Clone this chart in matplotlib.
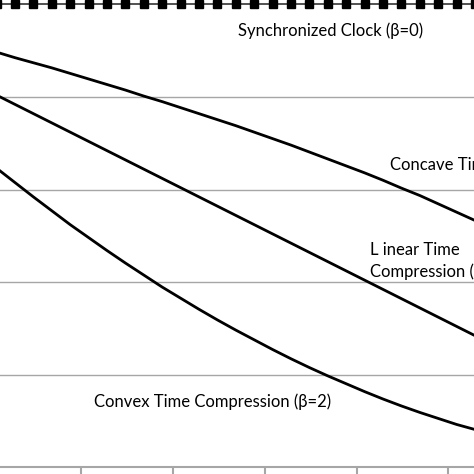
import matplotlib.pyplot as plt
import numpy as np

plt.rcParams['savefig.bbox'] = 'standard'

# --- data, one point per clock step ---
step = np.arange(-1, 26)
sync_clock = [1.0] * len(step)
concave = [0.897, 0.885, 0.874, 0.863, 0.851, 0.839, 0.827, 0.815, 0.802, 0.790,
           0.777, 0.764, 0.751, 0.738, 0.724, 0.710, 0.696, 0.681, 0.666, 0.651,
           0.636, 0.620, 0.603, 0.587, 0.569, 0.551, 0.533]
linear = [0.804, 0.784, 0.764, 0.744, 0.724, 0.704, 0.684, 0.664, 0.644, 0.624,
          0.604, 0.584, 0.564, 0.544, 0.524, 0.504, 0.484, 0.464, 0.444, 0.424,
          0.404, 0.384, 0.364, 0.344, 0.324, 0.304, 0.284]
convex = [0.646, 0.615, 0.584, 0.554, 0.524, 0.496, 0.468, 0.441, 0.415, 0.389,
          0.365, 0.341, 0.318, 0.296, 0.275, 0.254, 0.234, 0.215, 0.197, 0.180,
          0.163, 0.147, 0.132, 0.118, 0.105, 0.092, 0.081]
x_ticks = [3.6, 8.6, 13.6, 18.6, 23.55]

W = 474
fig = plt.figure(figsize=(4.74, 4.74), dpi=100)
# axes spans from the x axis (px 467) to the very top of the picture
ax = fig.add_axes([0, (W - 467) / W, 1, 467 / W])

# grid
for g in [0.2, 0.4, 0.6, 0.8]:
    ax.axhline(g, color='#a6a6a6', lw=1.0, zorder=1)

# series
ax.plot(step, sync_clock, color='#333333', lw=1.2, marker='s', markersize=5.8,
        markerfacecolor='black', markeredgecolor='black', zorder=3)
ax.plot(step, concave, color='black', lw=2.0, zorder=3)
ax.plot(step, linear, color='black', lw=2.0, zorder=3)
ax.plot(step, convex, color='black', lw=2.0, zorder=3)

# axes style
for s in ['top', 'right', 'left']:
    ax.spines[s].set_visible(False)
ax.spines['bottom'].set_color('#a6a6a6')
ax.spines['bottom'].set_linewidth(1.5)
ax.set_xticks(x_ticks)
ax.set_xticklabels([])
ax.set_yticks([])
ax.tick_params(axis='x', direction='out', length=6, width=1.5, color='#a6a6a6')

# limits last, so the tick setting cannot widen them
ax.set_xlim(-15 / 18.4, 459 / 18.4)
ax.set_ylim(0, 1 + 4.5 / 462.5)

# labels (the right-hand ones run off the picture, as in the original crop)
fam = ['Lato', 'DejaVu Sans']
fs = 12
def lab(px, py, s):
    fig.text(px / W, 1 - py / W, s, ha='left', va='center', fontsize=fs,
             family=fam, color='black')

lab(238, 31, 'Synchronized Clock (β=0)')
lab(390, 165, 'Concave Time Compression (β=0.5)')
lab(370, 250, 'L inear Time')
lab(370, 272, 'Compression (β=1)')
lab(94, 402, 'Convex Time Compression (β=2)')

fig.savefig('out.png', dpi=100)
